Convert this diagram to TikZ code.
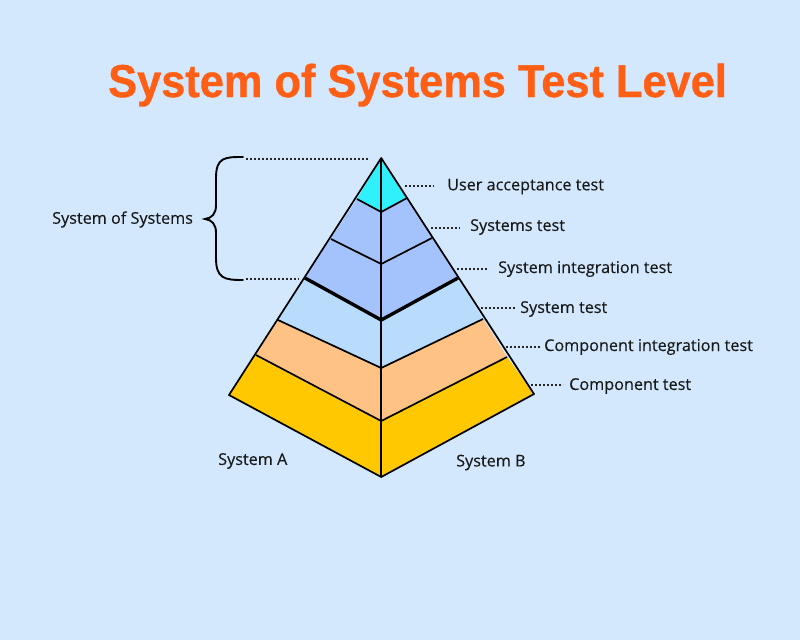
\documentclass[tikz,border=0pt]{standalone}
\usepackage{fontspec}
\setmainfont[FakeBold=0.25]{Open Sans}
\newfontfamily\titlefont[FakeStretch=0.943,FakeBold=0.8]{Liberation Sans Bold}
\definecolor{bgc}{HTML}{D3E8FD}
\definecolor{cyanc}{HTML}{2FF0FB}
\definecolor{bluec}{HTML}{A4C2FB}
\definecolor{lightc}{HTML}{B9DCFC}
\definecolor{orangec}{HTML}{FFC285}
\definecolor{goldc}{HTML}{FFC800}
\definecolor{titlec}{HTML}{FF5E14}
\tikzset{
  band/.style={draw=black,line width=1.7pt,line join=round},
  lbl/.style={anchor=west,inner sep=0pt,font=\fontsize{16.2pt}{18pt}\selectfont,text=black!90},
  dots/.style={line width=2pt,dash pattern=on 2pt off 2pt,draw=black!85},
}
\begin{document}
\begin{tikzpicture}[x=1pt,y=-1pt]
\useasboundingbox (0,0) rectangle (800,640);
\fill[bgc] (0,0) rectangle (800,640);
\coordinate (apex) at (381.200,158);
\coordinate (L1) at (357,199); \coordinate (C1) at (381.200,212); \coordinate (R1) at (407,198);
\coordinate (L2) at (331,239); \coordinate (C2) at (381.200,264); \coordinate (R2) at (432,238);
\coordinate (L3) at (305,278); \coordinate (C3) at (381.200,320); \coordinate (R3) at (458,278);
\coordinate (L4) at (278,320); \coordinate (C4) at (381.200,368); \coordinate (R4) at (483,319);
\coordinate (L5) at (256,355); \coordinate (C5) at (381.200,421); \coordinate (R5) at (507,357);
\coordinate (L6) at (229,395); \coordinate (C6) at (381.200,477); \coordinate (R6) at (534,394);
\path[fill=goldc] (L5)--(C5)--(R5)--(R6)--(C6)--(L6)--cycle;
\path[fill=orangec] (L4)--(C4)--(R4)--(R5)--(C5)--(L5)--cycle;
\path[fill=lightc] (L3)--(C3)--(R3)--(R4)--(C4)--(L4)--cycle;
\path[fill=bluec] (L1)--(C1)--(R1)--(R3)--(C3)--(L3)--cycle;
\path[fill=cyanc] (apex)--(R1)--(C1)--(L1)--cycle;
\draw[band] (L1)--(C1)--(R1);
\draw[band] (L2)--(C2)--(R2);
\draw[band,line width=3.4pt] (L3)--(C3)--(R3);
\draw[band] (L4)--(C4)--(R4);
\draw[band] (L5)--(C5)--(R5);
\draw[band] (apex)--(L6)--(C6)--(R6)--cycle;
\draw[band] (apex)--(C6);
\node[anchor=base west,inner sep=0pt,text=titlec] (title) at (108,97) {\titlefont\fontsize{46pt}{50pt}\selectfont System of Systems Test Level};
\node[lbl] (t1) at (447,186.500) {User acceptance test};
\node[lbl] (t2) at (470,227) {Systems test};
\node[lbl] (t3) at (498,269) {System integration test};
\node[lbl] (t4) at (520,309) {System test};
\node[lbl] (t5) at (544,347) {Component integration test};
\node[lbl] (t6) at (569,386) {Component test};
\node[lbl] (sos) at (52,219.500) {System of Systems};
\node[lbl] (sa) at (218,461) {System A};
\node[lbl] (sb) at (456,462.500) {System B};
\coordinate (d1a) at (405,186); \coordinate (d1b) at (434,186);
\coordinate (d2a) at (431,227.500); \coordinate (d2b) at (460,227.500);
\coordinate (d3a) at (457,268.500); \coordinate (d3b) at (488,268.500);
\coordinate (d4a) at (481,307.500); \coordinate (d4b) at (515,307.500);
\coordinate (d5a) at (506,346.500); \coordinate (d5b) at (540,346.500);
\coordinate (d6a) at (531,384.500); \coordinate (d6b) at (563,384.500);
\coordinate (d7a) at (246,158.500); \coordinate (d7b) at (368,158.500);
\coordinate (d8a) at (246,278.500); \coordinate (d8b) at (299,278.500);
\foreach \i in {1,...,8} \draw[dots] (d\i a)--(d\i b);
\draw[line width=1.9pt,black,line cap=round]
  (243,157) .. controls (225,157) and (216,157) .. (216,178)
  -- (216,205) .. controls (216,214) and (212,218) .. (205,219)
  .. controls (212,220) and (216,224) .. (216,233)
  -- (216,258) .. controls (216,279) and (225,280) .. (243,280);
\end{tikzpicture}
\end{document}
